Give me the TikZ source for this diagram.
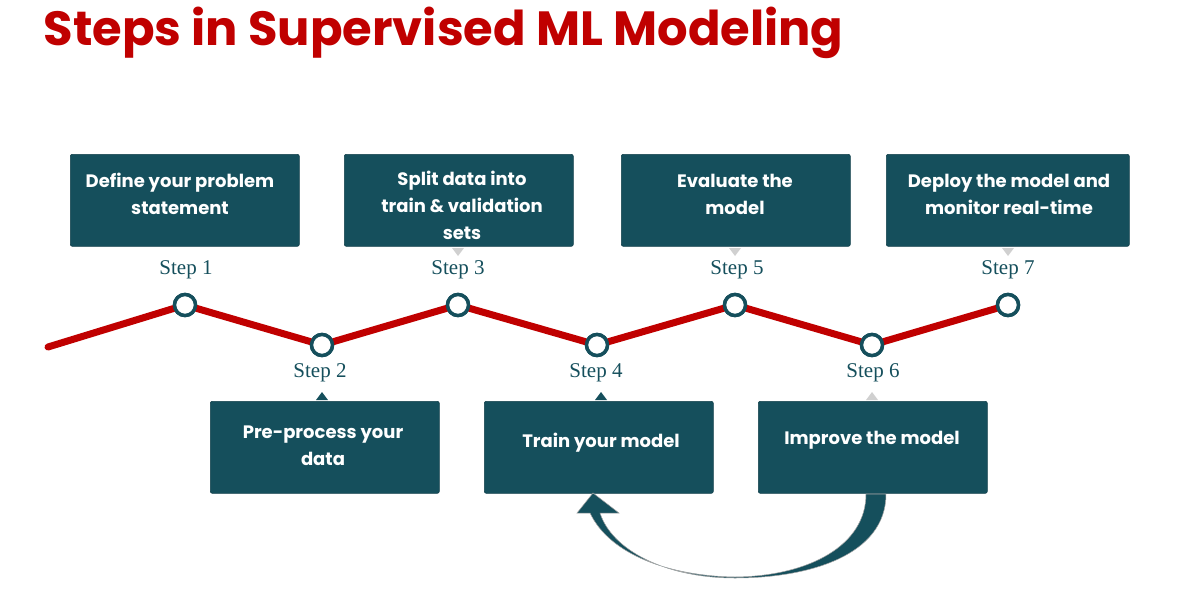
\documentclass[tikz,border=0pt]{standalone}
\usepackage{fontspec}
\setmainfont{Liberation Serif}
\newfontfamily\pop{Poppins}
\definecolor{teal}{HTML}{154F5C}
\definecolor{myred}{HTML}{C00000}
\definecolor{tri}{HTML}{D0D0D0}
\begin{document}
\begin{tikzpicture}[x=1pt,y=-1pt,
  box/.style={draw=teal!80!black,line width=0.6pt,fill=teal,rounded corners=2pt,minimum width=229pt,minimum height=92pt,anchor=north west},
  bt/.style={text=white,font=\pop\fontsize{18}{27}\selectfont\bfseries,align=center},
  dot/.style={circle,draw=teal,line width=3.5pt,fill=white,minimum size=21pt,inner sep=0},
  lab/.style={text=teal,font=\fontsize{21}{24}\selectfont}]
\useasboundingbox (0,0) rectangle (1200,608);
\node[anchor=west,text=myred,font=\pop\fontsize{48}{52}\selectfont\bfseries] (title) at (40,33) {Steps in Supervised ML Modeling};
% boxes
\node[box] (b1) at (70,154) {};
\node[box] (b3) at (344,154) {};
\node[box] (b5) at (621,154) {};
\node[box,minimum width=243pt] (b7) at (886,154) {};
\node[box] (b2) at (210,401) {};
\node[box] (b4) at (484,401) {};
\node[box] (b6) at (758,401) {};
\node[bt] (t1) at (180,194) {Define your problem\\statement};
\node[bt] (t3) at (462,205) {Split data into\\train \& validation\\sets};
\node[bt] (t5) at (735,194) {Evaluate the\\model};
\node[bt] (t7) at (1009,194) {Deploy the model and\\monitor real-time};
\node[bt] (t2) at (323,446) {Pre-process your\\data};
\node[bt] (t4) at (601,443) {Train your model};
\node[bt] (t6) at (872,440) {Improve the model};
% triangles
\fill[tri] (452,248) -- (464,248) -- (458,256) -- cycle;
\fill[tri] (729,248) -- (741,248) -- (735,256) -- cycle;
\fill[tri] (1002,248) -- (1014,248) -- (1008,256) -- cycle;
\fill[teal] (316,400) -- (328,400) -- (322,392) -- cycle;
\fill[teal] (595,400) -- (607,400) -- (601,392) -- cycle;
\fill[tri] (866,400) -- (878,400) -- (872,392) -- cycle;
% zigzag
\coordinate (s) at (48,347);
\node[dot] (d1) at (185,305) {};
\node[dot] (d2) at (322,345) {};
\node[dot] (d3) at (458,305) {};
\node[dot] (d4) at (597,345) {};
\node[dot] (d5) at (735,305) {};
\node[dot] (d6) at (872,345) {};
\node[dot] (d7) at (1008,305) {};
\draw[myred,line width=7pt,line cap=round] (s) -- (d1) -- (d2) -- (d3) -- (d4) -- (d5) -- (d6) -- (d7);
\foreach \i in {1,...,7} \node[dot] at (d\i) {};
\node[lab] (l1) at (186,270) {Step 1};
\node[lab] (l3) at (458,270) {Step 3};
\node[lab] (l5) at (737,270) {Step 5};
\node[lab] (l7) at (1008,270) {Step 7};
\node[lab] (l2) at (320,373) {Step 2};
\node[lab] (l4) at (596,373) {Step 4};
\node[lab] (l6) at (873,373) {Step 6};
% curved arrow
\fill[teal,draw=gray!70,line width=0.5pt] (886,494) .. controls (886,555) and (810,578) .. (735,578)
  .. controls (665,578) and (612,550) .. (600,513) -- (619,513) -- (593,493) -- (577,513) -- (590,513)
  .. controls (610,555) and (670,576) .. (735,577)
  .. controls (810,576) and (866,545) .. (866,494) -- cycle;
\end{tikzpicture}
\end{document}
